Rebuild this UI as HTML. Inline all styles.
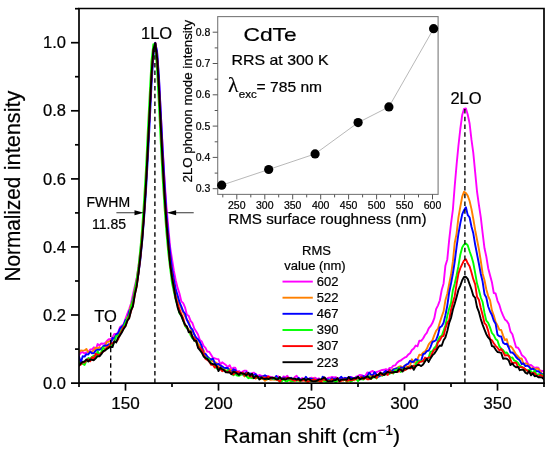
<!DOCTYPE html>
<html lang="en">
<head>
<meta charset="utf-8">
<title>CdTe Raman spectra</title>
<style>
html,body{margin:0;padding:0;background:#fff;}
body{width:550px;height:456px;overflow:hidden;}
svg{display:block;}
text{font-family:"Liberation Sans",Arial,sans-serif;fill:#000;stroke:#000;stroke-width:0.22px;}
.sym{font-family:"Liberation Serif","DejaVu Serif",serif;}
</style>
</head>
<body>
<svg width="550" height="456" viewBox="0 0 550 456">
<rect x="0" y="0" width="550" height="456" fill="#ffffff"/>
<defs><clipPath id="cp"><rect x="79.0" y="8.5" width="465.0" height="374.6"/></clipPath></defs>

<g clip-path="url(#cp)" fill="none" stroke-width="1.9" stroke-linejoin="round" stroke-linecap="round">
<polyline stroke="#ff00ff" points="79.0,355.3 80.9,352.6 82.7,352.0 84.6,353.6 86.4,352.4 88.3,351.9 90.2,349.5 92.0,349.4 93.9,347.3 95.7,350.0 97.6,344.1 99.5,345.5 101.3,343.5 103.2,343.8 105.0,343.2 106.9,341.0 108.8,339.2 110.6,339.1 112.5,337.2 114.3,334.0 116.2,333.9 118.1,332.4 119.9,327.2 121.8,325.8 123.6,324.2 125.5,318.9 127.4,313.7 129.2,309.1 131.1,303.3 132.9,294.8 134.8,286.1 136.7,278.0 138.5,266.8 140.4,251.0 142.2,232.3 144.1,210.3 146.0,181.8 147.8,148.4 149.7,112.5 151.5,77.4 153.4,51.0 155.3,42.6 157.1,53.4 159.0,80.3 160.8,113.7 162.7,148.4 164.6,180.6 166.4,206.0 168.3,227.7 170.1,246.8 172.0,259.0 173.9,271.0 175.7,280.3 177.6,287.9 179.4,293.2 181.3,301.3 183.2,303.2 185.0,307.3 186.9,314.7 188.7,315.9 190.6,320.8 192.5,323.2 194.3,328.6 196.2,331.5 198.0,334.6 199.9,340.0 201.8,341.5 203.6,345.8 205.5,347.8 207.3,351.6 209.2,351.8 211.1,354.7 212.9,357.7 214.8,358.3 216.6,358.9 218.5,359.3 220.4,364.6 222.2,362.3 224.1,363.7 225.9,365.1 227.8,367.1 229.7,365.2 231.5,369.1 233.4,367.8 235.2,367.7 237.1,371.9 239.0,371.0 240.8,372.8 242.7,371.6 244.5,370.6 246.4,370.6 248.3,375.3 250.1,374.3 252.0,373.2 253.8,372.6 255.7,374.2 257.6,375.8 259.4,375.0 261.3,375.6 263.1,376.1 265.0,376.9 266.9,376.0 268.7,376.3 270.6,376.9 272.4,377.2 274.3,378.5 276.2,377.8 278.0,376.2 279.9,377.7 281.7,379.2 283.6,376.4 285.5,377.3 287.3,375.8 289.2,378.0 291.0,378.7 292.9,379.8 294.8,377.0 296.6,375.8 298.5,379.3 300.3,379.2 302.2,378.0 304.1,379.5 305.9,378.9 307.8,379.0 309.6,378.5 311.5,377.6 313.4,378.6 315.2,377.7 317.1,379.1 318.9,378.3 320.8,380.8 322.7,380.0 324.5,377.7 326.4,379.1 328.2,377.8 330.1,377.8 332.0,376.9 333.8,377.4 335.7,377.1 337.5,378.2 339.4,378.7 341.3,378.7 343.1,378.3 345.0,378.9 346.8,378.2 348.7,377.6 350.6,377.0 352.4,377.5 354.3,379.0 356.1,376.7 358.0,376.1 359.9,374.9 361.7,375.1 363.6,376.1 365.4,375.8 367.3,372.4 369.2,373.4 371.0,371.7 372.9,370.9 374.7,373.9 376.6,372.0 378.5,371.3 380.3,370.6 382.2,370.0 384.0,369.8 385.9,369.1 387.8,370.4 389.6,367.9 391.5,367.8 393.3,365.7 395.2,365.4 397.1,362.8 398.9,361.2 400.8,360.5 402.6,359.0 404.5,357.7 406.4,356.8 408.2,354.6 410.1,353.3 411.9,350.0 413.8,348.5 415.7,345.5 417.5,346.3 419.4,340.6 421.2,340.9 423.1,338.5 425.0,335.0 426.8,332.8 428.7,328.3 430.5,326.2 432.4,323.1 434.3,318.2 436.1,309.1 438.0,305.3 439.8,300.5 441.7,290.0 443.6,283.4 445.4,265.7 447.3,259.4 449.1,240.6 451.0,223.9 452.9,209.5 454.7,186.3 456.6,164.7 458.4,146.0 460.3,129.0 462.2,115.0 464.0,109.0 465.9,108.5 467.7,114.5 469.6,123.5 471.5,139.9 473.3,152.9 475.2,172.7 477.0,191.3 478.9,204.8 480.8,217.4 482.6,232.8 484.5,248.3 486.3,256.5 488.2,268.2 490.1,275.6 491.9,282.2 493.8,293.0 495.6,293.5 497.5,300.8 499.4,304.9 501.2,311.0 503.1,315.7 504.9,319.4 506.8,320.9 508.7,324.1 510.5,331.6 512.4,334.2 514.2,340.7 516.1,347.3 518.0,347.7 519.8,350.6 521.7,354.9 523.5,356.4 525.4,358.4 527.3,362.5 529.1,365.1 531.0,365.0 532.8,366.4 534.7,367.9 536.6,367.4 538.4,367.6 540.3,371.2 542.1,370.8 544.0,371.3"/>
<polyline stroke="#ff8000" points="79.0,352.0 80.9,350.4 82.7,350.6 84.6,350.4 86.4,348.9 88.3,352.6 90.2,351.4 92.0,352.0 93.9,349.8 95.7,347.7 97.6,348.5 99.5,347.1 101.3,349.7 103.2,346.1 105.0,346.6 106.9,341.9 108.8,341.9 110.6,340.3 112.5,340.0 114.3,337.2 116.2,335.0 118.1,334.1 119.9,331.9 121.8,328.6 123.6,326.0 125.5,322.3 127.4,317.4 129.2,312.7 131.1,305.0 132.9,301.0 134.8,290.2 136.7,282.0 138.5,269.7 140.4,255.2 142.2,235.0 144.1,211.4 146.0,182.0 147.8,148.2 149.7,110.3 151.5,74.0 153.4,49.4 155.3,43.2 157.1,57.4 159.0,88.2 160.8,125.0 162.7,161.5 164.6,194.3 166.4,222.2 168.3,242.5 170.1,258.9 172.0,273.5 173.9,283.4 175.7,291.4 177.6,300.1 179.4,303.6 181.3,307.8 183.2,312.5 185.0,316.0 186.9,319.6 188.7,321.6 190.6,328.0 192.5,331.7 194.3,334.1 196.2,339.3 198.0,343.5 199.9,345.8 201.8,347.4 203.6,350.2 205.5,355.4 207.3,358.1 209.2,358.2 211.1,360.0 212.9,361.6 214.8,362.2 216.6,362.8 218.5,365.0 220.4,365.5 222.2,368.4 224.1,369.3 225.9,368.3 227.8,368.6 229.7,369.2 231.5,370.1 233.4,370.6 235.2,371.2 237.1,374.7 239.0,374.1 240.8,373.3 242.7,373.7 244.5,376.5 246.4,374.1 248.3,376.2 250.1,376.4 252.0,376.2 253.8,376.1 255.7,378.7 257.6,376.5 259.4,377.7 261.3,378.9 263.1,378.6 265.0,380.8 266.9,379.4 268.7,378.8 270.6,379.9 272.4,379.6 274.3,379.6 276.2,379.5 278.0,378.7 279.9,379.8 281.7,380.1 283.6,379.5 285.5,378.1 287.3,380.5 289.2,379.8 291.0,381.9 292.9,379.1 294.8,379.8 296.6,379.3 298.5,380.6 300.3,381.6 302.2,379.8 304.1,380.0 305.9,381.5 307.8,382.1 309.6,380.3 311.5,380.9 313.4,378.3 315.2,381.3 317.1,381.2 318.9,380.8 320.8,382.3 322.7,381.5 324.5,379.1 326.4,380.7 328.2,381.1 330.1,381.7 332.0,379.9 333.8,379.7 335.7,380.1 337.5,380.6 339.4,379.9 341.3,379.7 343.1,380.7 345.0,379.3 346.8,381.9 348.7,381.0 350.6,379.9 352.4,379.5 354.3,380.4 356.1,378.7 358.0,377.7 359.9,378.0 361.7,378.0 363.6,377.0 365.4,377.2 367.3,378.5 369.2,377.1 371.0,375.2 372.9,377.4 374.7,375.7 376.6,375.7 378.5,375.9 380.3,375.5 382.2,373.7 384.0,372.9 385.9,372.4 387.8,373.9 389.6,372.0 391.5,370.6 393.3,369.1 395.2,368.8 397.1,367.8 398.9,366.7 400.8,366.3 402.6,367.6 404.5,365.7 406.4,365.9 408.2,367.2 410.1,365.4 411.9,359.3 413.8,362.5 415.7,362.8 417.5,359.1 419.4,354.6 421.2,355.1 423.1,352.6 425.0,351.5 426.8,348.9 428.7,344.3 430.5,342.2 432.4,340.4 434.3,335.2 436.1,330.9 438.0,328.5 439.8,322.5 441.7,316.6 443.6,311.3 445.4,300.3 447.3,293.7 449.1,284.3 451.0,274.8 452.9,261.4 454.7,243.0 456.6,233.6 458.4,217.6 460.3,206.8 462.2,196.7 464.0,191.8 465.9,193.0 467.7,195.6 469.6,201.0 471.5,209.1 473.3,219.0 475.2,230.2 477.0,239.5 478.9,249.1 480.8,261.0 482.6,273.4 484.5,280.3 486.3,289.3 488.2,296.1 490.1,300.4 491.9,310.4 493.8,315.5 495.6,322.0 497.5,325.4 499.4,329.9 501.2,330.0 503.1,335.6 504.9,340.2 506.8,339.2 508.7,347.0 510.5,346.1 512.4,348.2 514.2,351.2 516.1,354.5 518.0,356.3 519.8,358.4 521.7,358.5 523.5,364.3 525.4,363.3 527.3,363.8 529.1,366.1 531.0,368.8 532.8,367.9 534.7,369.6 536.6,368.6 538.4,368.8 540.3,371.3 542.1,374.5 544.0,373.1"/>
<polyline stroke="#0000ff" points="79.0,356.5 80.9,362.4 82.7,356.2 84.6,356.6 86.4,354.1 88.3,354.5 90.2,351.7 92.0,353.3 93.9,353.1 95.7,350.6 97.6,349.8 99.5,349.8 101.3,348.7 103.2,346.4 105.0,345.3 106.9,345.8 108.8,344.2 110.6,344.6 112.5,338.0 114.3,338.7 116.2,334.4 118.1,333.4 119.9,328.9 121.8,326.7 123.6,325.2 125.5,320.1 127.4,318.9 129.2,311.1 131.1,308.8 132.9,300.3 134.8,292.0 136.7,283.8 138.5,273.1 140.4,259.3 142.2,241.0 144.1,217.9 146.0,190.8 147.8,158.8 149.7,122.3 151.5,84.6 153.4,56.0 155.3,42.9 157.1,51.5 159.0,77.4 160.8,113.6 162.7,150.6 164.6,184.3 166.4,213.3 168.3,235.2 170.1,252.6 172.0,268.6 173.9,279.4 175.7,289.4 177.6,295.4 179.4,301.8 181.3,306.4 183.2,311.4 185.0,313.5 186.9,319.9 188.7,323.6 190.6,327.7 192.5,329.6 194.3,334.6 196.2,337.8 198.0,339.3 199.9,342.1 201.8,346.2 203.6,353.6 205.5,353.9 207.3,356.3 209.2,358.7 211.1,359.7 212.9,358.7 214.8,362.9 216.6,364.7 218.5,363.9 220.4,365.6 222.2,366.3 224.1,368.0 225.9,367.9 227.8,368.0 229.7,371.5 231.5,371.8 233.4,369.3 235.2,370.2 237.1,372.3 239.0,373.4 240.8,373.0 242.7,374.6 244.5,374.0 246.4,372.2 248.3,374.3 250.1,373.4 252.0,375.3 253.8,374.9 255.7,374.1 257.6,377.4 259.4,376.6 261.3,376.7 263.1,376.4 265.0,375.3 266.9,376.5 268.7,379.0 270.6,377.9 272.4,378.7 274.3,378.9 276.2,375.9 278.0,379.2 279.9,378.0 281.7,379.1 283.6,377.6 285.5,378.2 287.3,378.5 289.2,378.8 291.0,377.7 292.9,379.9 294.8,379.7 296.6,380.2 298.5,377.8 300.3,379.5 302.2,380.3 304.1,379.7 305.9,376.8 307.8,379.4 309.6,378.5 311.5,378.9 313.4,379.3 315.2,380.0 317.1,379.6 318.9,379.7 320.8,381.5 322.7,376.7 324.5,378.3 326.4,379.1 328.2,379.4 330.1,379.9 332.0,378.1 333.8,379.2 335.7,378.5 337.5,380.3 339.4,378.5 341.3,376.8 343.1,379.0 345.0,377.8 346.8,378.5 348.7,377.3 350.6,377.3 352.4,378.2 354.3,378.6 356.1,377.5 358.0,377.6 359.9,378.0 361.7,376.6 363.6,376.3 365.4,377.5 367.3,376.3 369.2,372.6 371.0,374.6 372.9,375.1 374.7,372.0 376.6,374.9 378.5,376.8 380.3,375.7 382.2,374.8 384.0,372.2 385.9,370.9 387.8,374.1 389.6,369.7 391.5,372.0 393.3,369.7 395.2,368.8 397.1,368.3 398.9,368.2 400.8,367.4 402.6,368.4 404.5,366.0 406.4,364.4 408.2,363.8 410.1,360.8 411.9,362.0 413.8,361.5 415.7,359.2 417.5,360.0 419.4,360.8 421.2,360.8 423.1,354.2 425.0,353.5 426.8,351.1 428.7,350.6 430.5,347.1 432.4,342.0 434.3,341.2 436.1,340.0 438.0,334.9 439.8,327.4 441.7,326.2 443.6,322.7 445.4,315.3 447.3,305.6 449.1,292.8 451.0,283.6 452.9,273.5 454.7,261.8 456.6,246.9 458.4,234.2 460.3,223.4 462.2,214.4 464.0,210.2 465.9,207.3 467.7,214.9 469.6,217.5 471.5,226.8 473.3,233.3 475.2,244.8 477.0,254.0 478.9,263.8 480.8,274.0 482.6,281.6 484.5,294.2 486.3,297.5 488.2,306.5 490.1,311.5 491.9,315.0 493.8,320.7 495.6,323.7 497.5,334.7 499.4,336.2 501.2,336.4 503.1,342.8 504.9,344.1 506.8,343.8 508.7,347.5 510.5,352.5 512.4,352.5 514.2,354.3 516.1,357.0 518.0,359.0 519.8,360.3 521.7,364.1 523.5,363.3 525.4,366.1 527.3,365.6 529.1,366.7 531.0,369.5 532.8,368.6 534.7,369.9 536.6,371.3 538.4,371.2 540.3,373.2 542.1,373.9 544.0,374.1"/>
<polyline stroke="#00ff00" points="79.0,362.3 80.9,363.8 82.7,363.9 84.6,364.9 86.4,360.8 88.3,357.9 90.2,358.6 92.0,357.1 93.9,355.4 95.7,356.9 97.6,351.2 99.5,354.7 101.3,351.9 103.2,347.4 105.0,349.8 106.9,348.0 108.8,347.3 110.6,344.4 112.5,345.8 114.3,341.7 116.2,336.2 118.1,335.7 119.9,333.7 121.8,329.9 123.6,326.4 125.5,322.8 127.4,317.8 129.2,315.2 131.1,306.2 132.9,300.3 134.8,289.6 136.7,279.5 138.5,266.7 140.4,248.6 142.2,228.0 144.1,199.8 146.0,168.7 147.8,131.6 149.7,94.7 151.5,61.1 153.4,44.1 155.3,46.8 157.1,70.0 159.0,105.6 160.8,143.0 162.7,178.7 164.6,208.3 166.4,232.2 168.3,252.6 170.1,268.0 172.0,282.9 173.9,291.7 175.7,299.7 177.6,305.5 179.4,313.0 181.3,316.0 183.2,320.0 185.0,325.9 186.9,328.5 188.7,329.8 190.6,335.2 192.5,338.5 194.3,338.5 196.2,342.2 198.0,346.0 199.9,348.6 201.8,352.3 203.6,355.2 205.5,357.5 207.3,358.5 209.2,359.3 211.1,363.4 212.9,364.6 214.8,366.2 216.6,368.5 218.5,367.7 220.4,367.8 222.2,370.6 224.1,369.4 225.9,371.6 227.8,370.2 229.7,370.7 231.5,373.0 233.4,375.3 235.2,373.9 237.1,375.5 239.0,375.8 240.8,375.0 242.7,373.7 244.5,375.6 246.4,376.1 248.3,378.2 250.1,377.2 252.0,378.3 253.8,376.6 255.7,378.0 257.6,377.8 259.4,378.0 261.3,378.4 263.1,377.5 265.0,378.2 266.9,379.2 268.7,378.9 270.6,378.7 272.4,378.1 274.3,379.4 276.2,378.2 278.0,380.3 279.9,380.1 281.7,381.4 283.6,379.3 285.5,381.1 287.3,381.2 289.2,379.5 291.0,380.9 292.9,381.2 294.8,379.6 296.6,380.8 298.5,379.8 300.3,381.1 302.2,380.0 304.1,379.8 305.9,380.7 307.8,379.1 309.6,381.2 311.5,381.0 313.4,380.8 315.2,379.9 317.1,381.1 318.9,381.3 320.8,380.6 322.7,379.6 324.5,381.2 326.4,382.0 328.2,380.9 330.1,380.1 332.0,381.2 333.8,380.5 335.7,382.4 337.5,380.5 339.4,380.4 341.3,379.9 343.1,380.1 345.0,379.6 346.8,381.2 348.7,379.5 350.6,381.7 352.4,380.6 354.3,378.7 356.1,378.8 358.0,381.3 359.9,378.6 361.7,379.4 363.6,379.5 365.4,378.2 367.3,378.0 369.2,376.4 371.0,379.1 372.9,377.6 374.7,377.0 376.6,378.4 378.5,374.7 380.3,373.6 382.2,375.8 384.0,374.2 385.9,374.5 387.8,373.4 389.6,374.0 391.5,371.7 393.3,373.6 395.2,370.0 397.1,370.6 398.9,367.5 400.8,371.9 402.6,369.4 404.5,370.4 406.4,368.4 408.2,367.0 410.1,368.1 411.9,368.1 413.8,367.7 415.7,364.2 417.5,361.9 419.4,360.9 421.2,361.2 423.1,361.3 425.0,359.0 426.8,359.0 428.7,357.4 430.5,351.6 432.4,351.3 434.3,348.0 436.1,346.1 438.0,340.5 439.8,336.7 441.7,336.0 443.6,330.6 445.4,325.5 447.3,316.0 449.1,308.9 451.0,303.1 452.9,289.9 454.7,283.7 456.6,275.2 458.4,266.2 460.3,254.7 462.2,247.4 464.0,244.6 465.9,243.5 467.7,245.2 469.6,251.3 471.5,256.6 473.3,263.0 475.2,273.1 477.0,283.3 478.9,289.9 480.8,297.5 482.6,302.0 484.5,312.9 486.3,320.7 488.2,322.9 490.1,327.6 491.9,333.0 493.8,335.2 495.6,338.9 497.5,340.5 499.4,346.4 501.2,348.7 503.1,350.1 504.9,353.0 506.8,352.4 508.7,355.3 510.5,357.9 512.4,357.4 514.2,360.4 516.1,361.3 518.0,363.0 519.8,365.6 521.7,366.8 523.5,367.8 525.4,370.2 527.3,370.3 529.1,369.8 531.0,371.4 532.8,373.7 534.7,370.6 536.6,375.3 538.4,374.1 540.3,374.6 542.1,374.6 544.0,377.5"/>
<polyline stroke="#ff0000" points="79.0,365.7 80.9,364.4 82.7,362.0 84.6,362.5 86.4,360.4 88.3,359.2 90.2,361.3 92.0,357.2 93.9,358.4 95.7,353.8 97.6,354.6 99.5,355.2 101.3,353.0 103.2,351.7 105.0,350.1 106.9,347.2 108.8,346.8 110.6,343.6 112.5,343.2 114.3,342.2 116.2,341.8 118.1,339.5 119.9,334.6 121.8,331.1 123.6,327.0 125.5,326.0 127.4,320.9 129.2,317.1 131.1,310.9 132.9,306.2 134.8,294.5 136.7,286.0 138.5,272.8 140.4,256.7 142.2,237.4 144.1,214.5 146.0,183.0 147.8,148.8 149.7,110.9 151.5,75.4 153.4,50.2 155.3,43.6 157.1,57.9 159.0,88.5 160.8,126.5 162.7,162.0 164.6,195.6 166.4,222.2 168.3,244.2 170.1,263.7 172.0,275.7 173.9,287.5 175.7,298.5 177.6,303.6 179.4,309.2 181.3,314.2 183.2,318.2 185.0,325.0 186.9,326.9 188.7,330.7 190.6,333.3 192.5,336.5 194.3,338.1 196.2,341.5 198.0,346.7 199.9,347.6 201.8,349.7 203.6,354.2 205.5,358.9 207.3,359.9 209.2,361.3 211.1,364.9 212.9,364.8 214.8,367.6 216.6,366.3 218.5,367.3 220.4,369.1 222.2,371.2 224.1,370.1 225.9,371.8 227.8,372.4 229.7,370.8 231.5,373.4 233.4,374.5 235.2,372.5 237.1,371.8 239.0,372.4 240.8,373.7 242.7,372.6 244.5,375.6 246.4,373.2 248.3,373.6 250.1,376.5 252.0,376.0 253.8,378.1 255.7,378.1 257.6,376.7 259.4,378.7 261.3,377.6 263.1,377.5 265.0,378.1 266.9,377.4 268.7,376.6 270.6,378.6 272.4,377.9 274.3,377.6 276.2,379.6 278.0,379.9 279.9,381.8 281.7,379.1 283.6,378.5 285.5,379.2 287.3,377.7 289.2,378.3 291.0,379.1 292.9,380.0 294.8,380.9 296.6,380.0 298.5,379.7 300.3,380.3 302.2,380.5 304.1,380.6 305.9,379.6 307.8,382.0 309.6,380.7 311.5,380.3 313.4,379.7 315.2,379.7 317.1,380.6 318.9,380.9 320.8,381.5 322.7,379.2 324.5,379.8 326.4,380.1 328.2,381.0 330.1,381.3 332.0,379.1 333.8,380.2 335.7,379.7 337.5,378.3 339.4,381.6 341.3,380.8 343.1,379.6 345.0,379.3 346.8,380.8 348.7,379.8 350.6,380.3 352.4,380.1 354.3,379.0 356.1,379.0 358.0,377.8 359.9,378.1 361.7,377.0 363.6,379.1 365.4,377.6 367.3,379.2 369.2,379.2 371.0,378.7 372.9,376.1 374.7,376.3 376.6,377.9 378.5,374.2 380.3,374.2 382.2,375.0 384.0,374.7 385.9,373.9 387.8,374.9 389.6,370.2 391.5,373.1 393.3,372.3 395.2,371.9 397.1,371.8 398.9,371.5 400.8,369.5 402.6,370.9 404.5,370.2 406.4,369.4 408.2,366.8 410.1,368.5 411.9,367.9 413.8,365.5 415.7,366.6 417.5,364.7 419.4,362.1 421.2,361.6 423.1,361.0 425.0,357.6 426.8,358.8 428.7,357.4 430.5,357.3 432.4,352.7 434.3,349.6 436.1,348.9 438.0,342.3 439.8,340.3 441.7,336.7 443.6,335.8 445.4,328.5 447.3,322.8 449.1,320.3 451.0,309.9 452.9,302.4 454.7,296.2 456.6,284.2 458.4,273.8 460.3,268.1 462.2,264.2 464.0,260.5 465.9,259.2 467.7,263.3 469.6,266.3 471.5,272.5 473.3,279.2 475.2,284.3 477.0,296.7 478.9,299.7 480.8,308.0 482.6,314.9 484.5,323.2 486.3,325.1 488.2,330.9 490.1,339.1 491.9,340.2 493.8,343.2 495.6,345.8 497.5,347.7 499.4,350.4 501.2,349.1 503.1,351.9 504.9,355.5 506.8,355.2 508.7,355.8 510.5,359.6 512.4,363.6 514.2,362.7 516.1,362.7 518.0,367.2 519.8,367.1 521.7,367.1 523.5,367.8 525.4,369.3 527.3,370.8 529.1,372.3 531.0,373.6 532.8,372.6 534.7,373.4 536.6,375.6 538.4,376.5 540.3,374.9 542.1,375.8 544.0,378.2"/>
<polyline stroke="#000000" points="79.0,365.3 80.9,363.2 82.7,362.0 84.6,361.3 86.4,359.5 88.3,361.5 90.2,359.5 92.0,359.8 93.9,360.2 95.7,358.3 97.6,356.2 99.5,356.4 101.3,354.2 103.2,351.2 105.0,350.5 106.9,349.0 108.8,347.7 110.6,346.7 112.5,347.1 114.3,341.3 116.2,342.4 118.1,337.7 119.9,335.6 121.8,332.5 123.6,329.1 125.5,326.2 127.4,320.5 129.2,318.4 131.1,310.2 132.9,306.3 134.8,294.8 136.7,286.4 138.5,273.0 140.4,256.3 142.2,240.0 144.1,214.2 146.0,183.9 147.8,148.9 149.7,110.7 151.5,75.0 153.4,49.5 155.3,43.1 157.1,57.8 159.0,88.6 160.8,125.7 162.7,163.3 164.6,195.7 166.4,222.1 168.3,244.5 170.1,263.5 172.0,277.4 173.9,287.9 175.7,298.6 177.6,307.4 179.4,312.6 181.3,315.7 183.2,320.8 185.0,324.6 186.9,326.5 188.7,332.3 190.6,331.2 192.5,337.4 194.3,340.8 196.2,340.6 198.0,347.8 199.9,350.1 201.8,352.6 203.6,356.4 205.5,358.0 207.3,358.9 209.2,361.5 211.1,363.6 212.9,364.0 214.8,364.3 216.6,365.9 218.5,371.1 220.4,367.8 222.2,369.2 224.1,370.3 225.9,372.4 227.8,372.3 229.7,372.5 231.5,374.2 233.4,371.6 235.2,372.3 237.1,373.6 239.0,375.0 240.8,372.7 242.7,373.8 244.5,373.6 246.4,375.5 248.3,372.7 250.1,375.7 252.0,373.7 253.8,378.2 255.7,376.0 257.6,376.5 259.4,379.5 261.3,377.7 263.1,378.6 265.0,379.0 266.9,378.5 268.7,379.1 270.6,377.7 272.4,377.7 274.3,378.1 276.2,379.3 278.0,379.1 279.9,377.0 281.7,379.1 283.6,378.9 285.5,379.5 287.3,378.5 289.2,378.2 291.0,378.4 292.9,378.8 294.8,378.6 296.6,379.6 298.5,378.8 300.3,380.5 302.2,379.4 304.1,378.7 305.9,380.6 307.8,378.9 309.6,379.4 311.5,380.9 313.4,381.4 315.2,381.3 317.1,380.7 318.9,379.4 320.8,379.4 322.7,378.5 324.5,377.4 326.4,380.1 328.2,381.7 330.1,381.1 332.0,381.6 333.8,380.2 335.7,380.1 337.5,378.2 339.4,381.0 341.3,379.6 343.1,379.6 345.0,379.4 346.8,379.8 348.7,377.0 350.6,379.3 352.4,378.9 354.3,378.1 356.1,378.4 358.0,376.6 359.9,379.5 361.7,378.2 363.6,378.3 365.4,377.6 367.3,376.3 369.2,377.7 371.0,378.8 372.9,376.3 374.7,377.2 376.6,375.0 378.5,375.1 380.3,372.5 382.2,373.9 384.0,375.0 385.9,373.2 387.8,371.9 389.6,372.6 391.5,372.4 393.3,372.2 395.2,372.0 397.1,372.1 398.9,369.1 400.8,369.7 402.6,371.5 404.5,368.0 406.4,368.9 408.2,368.2 410.1,367.9 411.9,366.0 413.8,369.8 415.7,366.3 417.5,364.9 419.4,365.0 421.2,366.1 423.1,364.6 425.0,361.5 426.8,358.7 428.7,361.9 430.5,358.4 432.4,355.4 434.3,353.6 436.1,351.0 438.0,347.7 439.8,345.5 441.7,345.7 443.6,340.3 445.4,337.4 447.3,331.0 449.1,323.3 451.0,318.0 452.9,309.5 454.7,303.7 456.6,296.9 458.4,289.9 460.3,285.6 462.2,280.2 464.0,277.0 465.9,276.8 467.7,278.9 469.6,284.2 471.5,289.5 473.3,295.7 475.2,297.8 477.0,307.1 478.9,311.9 480.8,319.1 482.6,324.6 484.5,329.6 486.3,334.2 488.2,337.4 490.1,339.7 491.9,346.0 493.8,346.7 495.6,349.6 497.5,352.0 499.4,352.4 501.2,352.9 503.1,358.8 504.9,358.4 506.8,358.7 508.7,360.4 510.5,365.1 512.4,363.6 514.2,366.0 516.1,367.3 518.0,366.9 519.8,370.2 521.7,369.7 523.5,369.9 525.4,372.6 527.3,373.8 529.1,371.0 531.0,375.3 532.8,373.4 534.7,376.3 536.6,375.9 538.4,377.3 540.3,377.1 542.1,377.6 544.0,379.3"/>
</g>
<g stroke="#000" stroke-width="1.35" stroke-dasharray="4.5 3.2" fill="none">
<line x1="154.9" y1="383.1" x2="154.9" y2="42.7"/>
<line x1="464.9" y1="383.1" x2="464.9" y2="108.4"/>
<line x1="110.7" y1="383.1" x2="110.7" y2="325"/>
</g>
<g stroke="#000" stroke-width="1.7" fill="none" stroke-linecap="butt">
<polyline points="79.0,383.1 79.0,8.5 544.0,8.5 544.0,383.95000000000005"/>
<line x1="71.0" y1="383.1" x2="544.85" y2="383.1"/>
<line x1="75.0" y1="349.1" x2="79.0" y2="349.1"/>
<line x1="71.0" y1="315.0" x2="79.0" y2="315.0"/>
<line x1="75.0" y1="281.0" x2="79.0" y2="281.0"/>
<line x1="71.0" y1="246.9" x2="79.0" y2="246.9"/>
<line x1="75.0" y1="212.9" x2="79.0" y2="212.9"/>
<line x1="71.0" y1="178.9" x2="79.0" y2="178.9"/>
<line x1="75.0" y1="144.8" x2="79.0" y2="144.8"/>
<line x1="71.0" y1="110.8" x2="79.0" y2="110.8"/>
<line x1="75.0" y1="76.7" x2="79.0" y2="76.7"/>
<line x1="71.0" y1="42.7" x2="79.0" y2="42.7"/>
<line x1="75.0" y1="8.7" x2="79.0" y2="8.7"/>
<line x1="79.0" y1="383.1" x2="79.0" y2="386.90000000000003"/>
<line x1="125.5" y1="383.1" x2="125.5" y2="390.6"/>
<line x1="172.0" y1="383.1" x2="172.0" y2="386.90000000000003"/>
<line x1="218.5" y1="383.1" x2="218.5" y2="390.6"/>
<line x1="265.0" y1="383.1" x2="265.0" y2="386.90000000000003"/>
<line x1="311.5" y1="383.1" x2="311.5" y2="390.6"/>
<line x1="358.0" y1="383.1" x2="358.0" y2="386.90000000000003"/>
<line x1="404.5" y1="383.1" x2="404.5" y2="390.6"/>
<line x1="451.0" y1="383.1" x2="451.0" y2="386.90000000000003"/>
<line x1="497.5" y1="383.1" x2="497.5" y2="390.6"/>
<line x1="544.0" y1="383.1" x2="544.0" y2="386.90000000000003"/>
</g>
<g font-size="16.5px">
<text x="66" y="388.7" text-anchor="end">0.0</text>
<text x="66" y="320.6" text-anchor="end">0.2</text>
<text x="66" y="252.5" text-anchor="end">0.4</text>
<text x="66" y="184.5" text-anchor="end">0.6</text>
<text x="66" y="116.4" text-anchor="end">0.8</text>
<text x="66" y="48.3" text-anchor="end">1.0</text>
</g>
<g font-size="17.1px">
<text x="125.5" y="408.8" text-anchor="middle">150</text>
<text x="218.5" y="408.8" text-anchor="middle">200</text>
<text x="311.5" y="408.8" text-anchor="middle">250</text>
<text x="404.5" y="408.8" text-anchor="middle">300</text>
<text x="497.5" y="408.8" text-anchor="middle">350</text>
</g>
<text x="311.8" y="443.4" font-size="21.1px" text-anchor="middle">Raman shift (cm<tspan font-size="14px" dy="-8.5">−1</tspan><tspan dy="8.5">)</tspan></text>
<text transform="translate(20.3,281.4) rotate(-90)" font-size="21.15px" textLength="104.7" lengthAdjust="spacingAndGlyphs">Normalized</text>
<text transform="translate(20.3,170.2) rotate(-90)" font-size="21.15px" textLength="79.6" lengthAdjust="spacingAndGlyphs">intensity</text>
<g font-size="16.5px">
<text x="156.6" y="38.5" text-anchor="middle">1LO</text>
<text x="466" y="103.7" text-anchor="middle">2LO</text>
<text x="105.5" y="322" text-anchor="middle">TO</text>
</g>
<g font-size="14px">
<text x="108.3" y="207" text-anchor="middle">FWHM</text>
<text x="109" y="229" text-anchor="middle">11.85</text>
</g>
<g stroke="#555" stroke-width="1.2">
<line x1="116.4" y1="212.7" x2="138" y2="212.7"/>
<line x1="172" y1="212.7" x2="193.7" y2="212.7"/>
</g>
<polygon points="143.8,212.7 134.5,210.2 134.5,215.2" fill="#000"/>
<polygon points="166.8,212.7 176.1,210.2 176.1,215.2" fill="#000"/>
<g font-size="13px">
<text x="316.5" y="254.7" text-anchor="middle">RMS</text>
<text x="315" y="270.1" text-anchor="middle">value (nm)</text>
<line x1="282.5" y1="281.6" x2="312.8" y2="281.6" stroke="#ff00ff" stroke-width="1.9"/>
<text x="316.7" y="285.9">602</text>
<line x1="282.5" y1="297.7" x2="312.8" y2="297.7" stroke="#ff8000" stroke-width="1.9"/>
<text x="316.7" y="302.0">522</text>
<line x1="282.5" y1="313.8" x2="312.8" y2="313.8" stroke="#0000ff" stroke-width="1.9"/>
<text x="316.7" y="318.1">467</text>
<line x1="282.5" y1="330.0" x2="312.8" y2="330.0" stroke="#00ff00" stroke-width="1.9"/>
<text x="316.7" y="334.3">390</text>
<line x1="282.5" y1="346.1" x2="312.8" y2="346.1" stroke="#ff0000" stroke-width="1.9"/>
<text x="316.7" y="350.4">307</text>
<line x1="282.5" y1="362.2" x2="312.8" y2="362.2" stroke="#000000" stroke-width="1.9"/>
<text x="316.7" y="366.5">223</text>
</g>
<rect x="217.7" y="16.6" width="220.40000000000003" height="177.8" fill="#fff" stroke="none"/>
<polyline fill="none" stroke="#b0b0b0" stroke-width="0.9" points="221.7,185.2 268.7,169.5 315.1,153.9 358.1,122.6 388.9,106.9 433.6,28.7"/>
<rect x="217.7" y="16.6" width="220.40000000000003" height="177.8" fill="none" stroke="#7a7a7a" stroke-width="1.1"/>
<g stroke="#555" stroke-width="1" fill="none">
<line x1="212.7" y1="188.7" x2="217.7" y2="188.7"/>
<line x1="214.7" y1="173.1" x2="217.7" y2="173.1"/>
<line x1="212.7" y1="157.4" x2="217.7" y2="157.4"/>
<line x1="214.7" y1="141.8" x2="217.7" y2="141.8"/>
<line x1="212.7" y1="126.1" x2="217.7" y2="126.1"/>
<line x1="214.7" y1="110.5" x2="217.7" y2="110.5"/>
<line x1="212.7" y1="94.8" x2="217.7" y2="94.8"/>
<line x1="214.7" y1="79.2" x2="217.7" y2="79.2"/>
<line x1="212.7" y1="63.5" x2="217.7" y2="63.5"/>
<line x1="214.7" y1="47.9" x2="217.7" y2="47.9"/>
<line x1="212.7" y1="32.2" x2="217.7" y2="32.2"/>
<line x1="222.8" y1="194.4" x2="222.8" y2="197.4"/>
<line x1="236.8" y1="194.4" x2="236.8" y2="199.4"/>
<line x1="250.8" y1="194.4" x2="250.8" y2="197.4"/>
<line x1="264.8" y1="194.4" x2="264.8" y2="199.4"/>
<line x1="278.7" y1="194.4" x2="278.7" y2="197.4"/>
<line x1="292.7" y1="194.4" x2="292.7" y2="199.4"/>
<line x1="306.7" y1="194.4" x2="306.7" y2="197.4"/>
<line x1="320.7" y1="194.4" x2="320.7" y2="199.4"/>
<line x1="334.6" y1="194.4" x2="334.6" y2="197.4"/>
<line x1="348.6" y1="194.4" x2="348.6" y2="199.4"/>
<line x1="362.6" y1="194.4" x2="362.6" y2="197.4"/>
<line x1="376.6" y1="194.4" x2="376.6" y2="199.4"/>
<line x1="390.6" y1="194.4" x2="390.6" y2="197.4"/>
<line x1="404.5" y1="194.4" x2="404.5" y2="199.4"/>
<line x1="418.5" y1="194.4" x2="418.5" y2="197.4"/>
<line x1="432.5" y1="194.4" x2="432.5" y2="199.4"/>
</g>
<circle cx="221.7" cy="185.2" r="4.6" fill="#000"/>
<circle cx="268.7" cy="169.5" r="4.6" fill="#000"/>
<circle cx="315.1" cy="153.9" r="4.6" fill="#000"/>
<circle cx="358.1" cy="122.6" r="4.6" fill="#000"/>
<circle cx="388.9" cy="106.9" r="4.6" fill="#000"/>
<circle cx="433.6" cy="28.7" r="4.6" fill="#000"/>
<g font-size="10.5px">
<text x="210.3" y="192.3" text-anchor="end">0.3</text>
<text x="210.3" y="161.0" text-anchor="end">0.4</text>
<text x="210.3" y="129.7" text-anchor="end">0.5</text>
<text x="210.3" y="98.4" text-anchor="end">0.6</text>
<text x="210.3" y="67.1" text-anchor="end">0.7</text>
<text x="210.3" y="35.8" text-anchor="end">0.8</text>
<text x="236.8" y="208.9" text-anchor="middle">250</text>
<text x="264.8" y="208.9" text-anchor="middle">300</text>
<text x="292.7" y="208.9" text-anchor="middle">350</text>
<text x="320.7" y="208.9" text-anchor="middle">400</text>
<text x="348.6" y="208.9" text-anchor="middle">450</text>
<text x="376.6" y="208.9" text-anchor="middle">500</text>
<text x="404.5" y="208.9" text-anchor="middle">550</text>
<text x="432.5" y="208.9" text-anchor="middle">600</text>
</g>
<text x="327.4" y="224.2" font-size="15.2px" text-anchor="middle">RMS surface roughness (nm)</text>
<text transform="translate(192.2,101.2) rotate(-90)" font-size="13.3px" text-anchor="middle">2LO phonon mode intensity</text>
<text x="243.6" y="40.6" font-size="18.6px" textLength="53" lengthAdjust="spacingAndGlyphs">CdTe</text>
<text x="231.6" y="65.3" font-size="14.6px" textLength="97" lengthAdjust="spacingAndGlyphs">RRS at 300 K</text>
<text x="228" y="92" class="sym" font-size="21.5px">λ</text>
<text x="238.8" y="97.9" font-size="11px" textLength="18" lengthAdjust="spacingAndGlyphs">exc</text>
<text x="256.6" y="91.7" font-size="14.6px" textLength="65.5" lengthAdjust="spacingAndGlyphs">= 785 nm</text>
</svg>
</body>
</html>
